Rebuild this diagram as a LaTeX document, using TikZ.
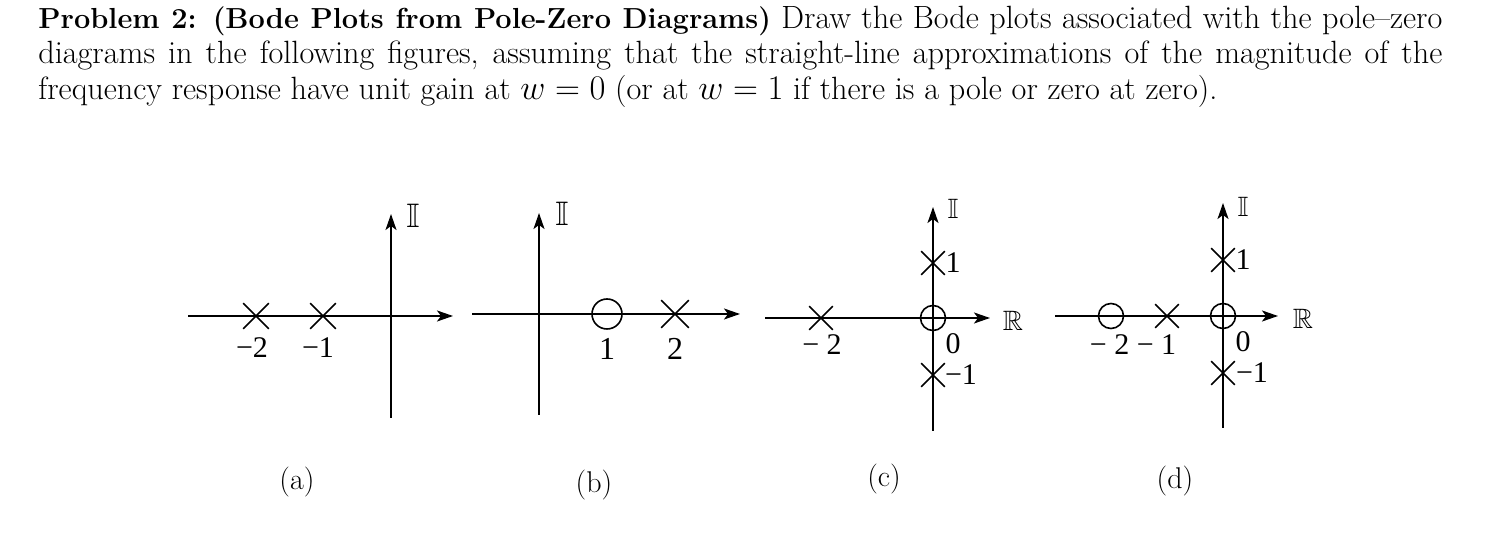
\documentclass[tikz,border=0pt]{standalone}
\usepackage{amsmath,amssymb}
\usepackage{fontspec}
\newfontfamily\figfont{Liberation Serif}
\usetikzlibrary{arrows.meta,shapes.misc}

\begin{document}
\begin{tikzpicture}[x=0.5pt,y=-0.5pt,
    axis/.style={line width=0.9pt,-{Stealth[length=8pt,width=5.5pt,inset=2pt]}},
    pole/.style={cross out,draw,line width=0.8pt,minimum size=12pt,inner sep=0pt},
    zero/.style={circle,draw,line width=0.8pt,minimum size=12.5pt,inner sep=0pt},
    lbl/.style={font=\figfont\fontsize{15}{18}\selectfont,inner sep=0pt},
    capt/.style={font=\fontsize{15}{18}\selectfont,inner sep=0pt}]
            \useasboundingbox (0,0) rectangle (1505,533);

            \node[anchor=north west,text width=702pt,align=justify,inner sep=0pt,font=\fontsize{16.1}{17.6}\selectfont] (prob) at (38,6)
                {{\fontsize{14.5}{17.6}\selectfont\textbf{Problem 2: (Bode Plots from Pole-Zero Diagrams)}} Draw the Bode plots associated with the pole--zero\linebreak
                diagrams in the following figures, assuming that the straight-line approximations of the magnitude of the\linebreak
                frequency response have unit gain at $w=0$ (or at $w=1$ if there is a pole or zero at zero).};

            \draw[axis] (188,316) -- (453,316);
            \draw[axis] (391,418) -- (391,214);
            \node[pole] (a2) at (256,316) {};
            \node[pole] (a1) at (323,316) {};
            \node[lbl] (la2) at (252,348) {−2};
            \node[lbl] (la1) at (318,348) {−1};
            \node[lbl,font=\fontsize{17}{18}\selectfont] (ia) at (413,216) {$\mathbb{I}$};
            \node[capt] (ca) at (297,482) {(a)};

            \draw[axis] (472,314) -- (740,314);
            \draw[axis] (539,415) -- (539,213);
            \node[zero,minimum size=15pt] (b1) at (607,314) {};
            \node[pole,minimum size=13pt] (b2) at (675,314) {};
            \node[lbl,font=\figfont\fontsize{16}{18}\selectfont] (lb1) at (607,349) {1};
            \node[lbl,font=\figfont\fontsize{16}{18}\selectfont] (lb2) at (675,349) {2};
            \node[lbl,font=\fontsize{17}{18}\selectfont] (ib) at (562,214) {$\mathbb{I}$};
            \node[capt] (cb) at (594,485) {(b)};

            \draw[axis] (765,318) -- (990,318);
            \draw[axis] (933,431) -- (933,207);
            \node[pole,minimum size=11pt] (c2) at (821,318) {};
            \node[pole,minimum size=11pt] (cp) at (933,263) {};
            \node[pole,minimum size=11pt] (cm) at (933,375) {};
            \node[zero] (c0) at (933,318) {};
            \node[lbl] (lc2) at (822,345) {− 2};
            \node[lbl] (lcp) at (953,263) {1};
            \node[lbl] (lcm) at (961,375) {−1};
            \node[lbl] (lc0) at (953,344) {0};
            \node[lbl,font=\fontsize{14}{18}\selectfont] (rc) at (1013,321) {$\mathbb{R}$};
            \node[lbl,font=\fontsize{14}{18}\selectfont] (ic) at (953,209) {$\mathbb{I}$};
            \node[capt] (cc) at (884,479) {(c)};

            \draw[axis] (1055,316) -- (1278,316);
            \draw[axis] (1223,428) -- (1223,203);
            \node[zero] (d2) at (1111,316) {};
            \node[pole,minimum size=11pt] (d1) at (1167,316) {};
            \node[pole,minimum size=11pt] (dp) at (1223,260) {};
            \node[pole,minimum size=11pt] (dm) at (1223,373) {};
            \node[zero] (d0) at (1223,316) {};
            \node[lbl] (ld21) at (1133,345) {− 2 − 1};
            \node[lbl] (ldp) at (1243,260) {1};
            \node[lbl] (ldm) at (1252,373) {−1};
            \node[lbl] (ld0) at (1243,342) {0};
            \node[lbl,font=\fontsize{14}{18}\selectfont] (rd) at (1303,319) {$\mathbb{R}$};
            \node[lbl,font=\fontsize{14}{18}\selectfont] (id) at (1243,207) {$\mathbb{I}$};
            \node[capt] (cd) at (1175,481) {(d)};
        \end{tikzpicture}
\end{document}
